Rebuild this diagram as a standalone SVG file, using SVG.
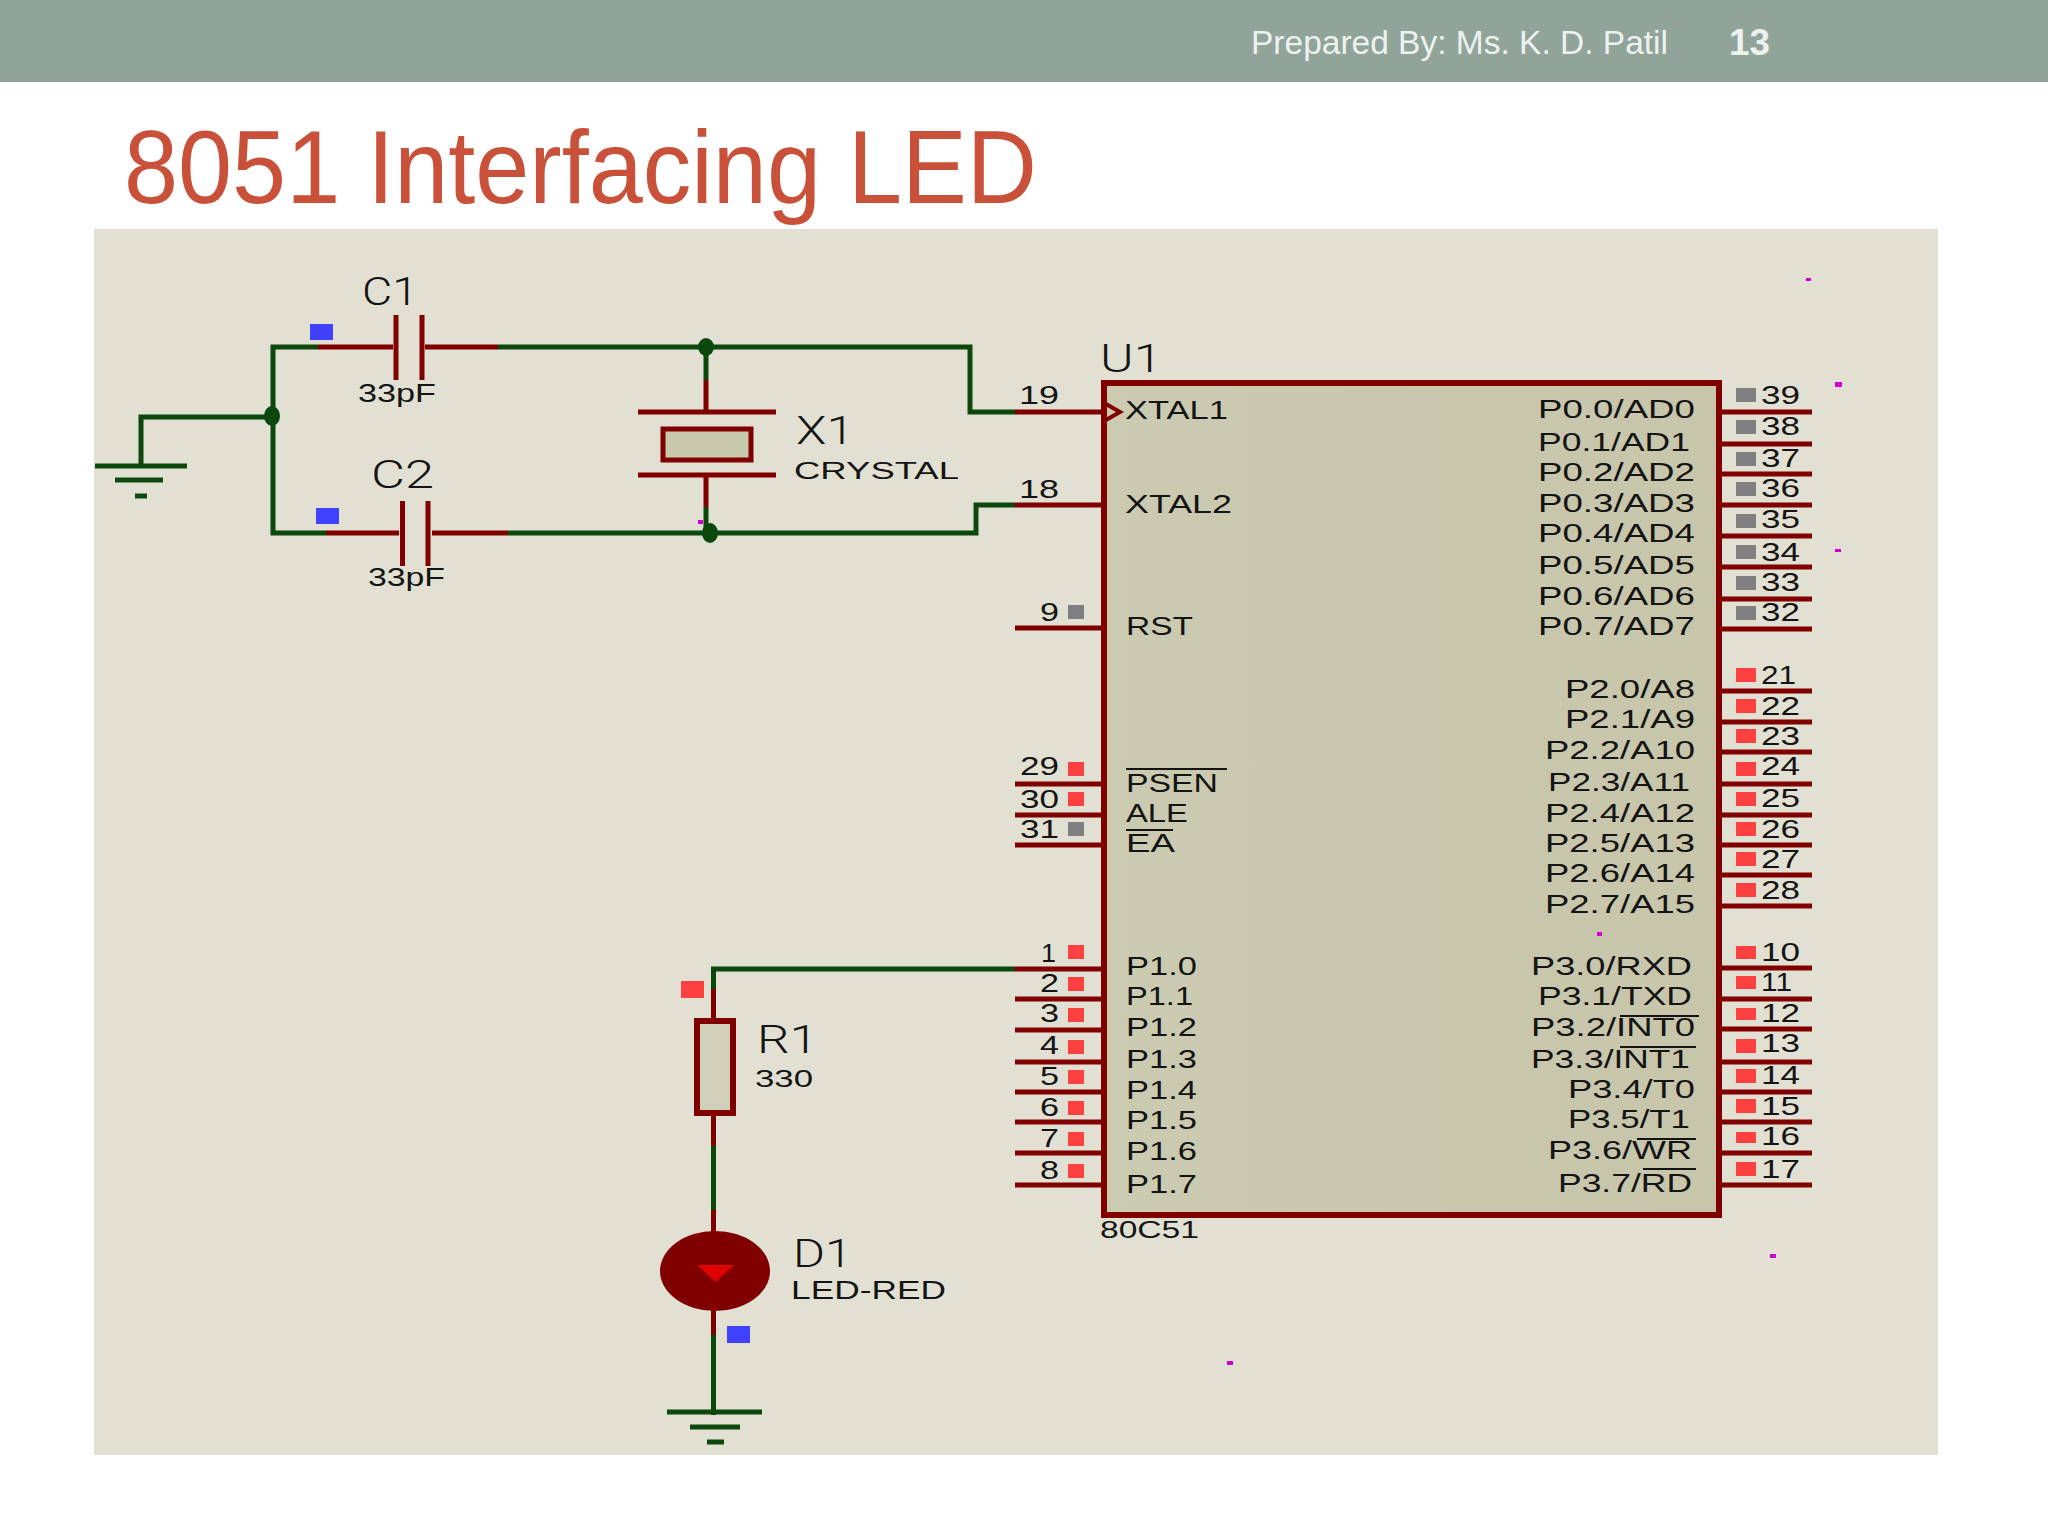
<svg xmlns="http://www.w3.org/2000/svg" width="2048" height="1536" viewBox="0 0 2048 1536">
<style>
text{font-family:"Liberation Sans",Arial,sans-serif;fill:#141414}
.w{fill:none;stroke:#0c480c;stroke-width:5}
.r{fill:none;stroke:#800000;stroke-width:5}
.j{fill:#0c480c}
.ol{stroke:#141414;stroke-width:2}
.l{font-size:25px}
.d{font-size:26px}
.n{font-size:24px}
.big{font-size:38px;font-family:Roboto,"Liberation Sans",sans-serif;font-weight:300}
.sr{fill:#ff4040}.sg{fill:#808080}.sb{fill:#4040ff}.m{fill:#d000d0}
</style>
<defs>
<linearGradient id="chip" x1="0" x2="1" y1="0" y2="0"><stop offset="0" stop-color="#cbcbb2"/><stop offset="1" stop-color="#c7c5aa"/></linearGradient>
</defs>
<rect width="2048" height="1536" fill="#fff"/>
<rect id="header" width="2048" height="82" fill="#90a49a"/>
<text x="1251" y="54" font-size="33" textLength="417" lengthAdjust="spacingAndGlyphs" style="fill:#edf2ef">Prepared By: Ms. K. D. Patil</text>
<text x="1729" y="55" font-size="37" font-weight="bold" textLength="41" lengthAdjust="spacingAndGlyphs" style="fill:#edf2ef">13</text>
<text x="124" y="203" font-size="103" textLength="913" lengthAdjust="spacingAndGlyphs" style="fill:#c9513a">8051 Interfacing LED</text>
<rect id="schematic" x="94" y="229" width="1844" height="1226" fill="#e1e0d2"/>

<g id="connectors">
<path class="w" d="M318 347H273V533H326"/>
<path class="w" d="M498 347H970V412H1015"/>
<path class="w" d="M508 533H976V505H1015"/>
<path class="w" d="M272 417H141V466"/>
<path class="w" d="M706 347V380"/>
<path class="w" d="M706 507V533"/>
<path class="w" d="M1015 969H713.500V989"/>
<path class="w" d="M713.500 1146V1210"/>
<path class="w" d="M713.500 1335V1415"/>
<ellipse class="j" cx="272" cy="416" rx="8" ry="10"/>
<ellipse class="j" cx="706" cy="347" rx="8" ry="9"/>
<ellipse class="j" cx="710" cy="533" rx="8" ry="10"/>
</g>

<g id="GND1">
<path class="w" d="M95 466H187"/><path class="w" d="M115 480H163"/><path class="w" d="M135 496H147"/>
</g>
<g id="C1">
<path class="r" d="M318 347H393M425 347H498"/>
<path class="r" d="M396 315V380M422 315V380"/>
<rect class="sb" x="310" y="324" width="23" height="16"/>
<text class="big" x="362" y="305" textLength="56" lengthAdjust="spacingAndGlyphs">C1</text>
<text class="l" x="358" y="402" textLength="78" lengthAdjust="spacingAndGlyphs">33pF</text>
</g>
<g id="C2">
<path class="r" d="M326 533H399M432 533H508"/>
<path class="r" d="M402.500 501V566M428 501V566"/>
<rect class="sb" x="316" y="508" width="23" height="16"/>
<text class="big" x="371" y="488" textLength="63" lengthAdjust="spacingAndGlyphs">C2</text>
<text class="l" x="368" y="586" textLength="77" lengthAdjust="spacingAndGlyphs">33pF</text>
</g>
<g id="X1">
<path class="r" d="M706 380V412M638 412H776M638 475H776M706 475V507"/>
<rect x="663" y="429" width="88" height="31" fill="#c9c9ae" stroke="#800000" stroke-width="5"/>
<text class="big" x="796" y="444" textLength="58" lengthAdjust="spacingAndGlyphs">X1</text>
<text class="n" x="794" y="479" textLength="165" lengthAdjust="spacingAndGlyphs">CRYSTAL</text>
</g>
<g id="R1">
<path class="r" d="M713.500 989V1021M713.500 1116V1146"/>
<rect x="697" y="1021" width="36" height="92" fill="#d0d0ba" stroke="#800000" stroke-width="6"/>
<rect class="sr" x="681" y="981" width="23" height="17"/>
<text class="big" x="757" y="1053" textLength="61" lengthAdjust="spacingAndGlyphs">R1</text>
<text class="n" x="755" y="1087" textLength="58" lengthAdjust="spacingAndGlyphs">330</text>
</g>
<g id="D1">
<path class="r" d="M713.500 1210V1240M713.500 1300V1335"/>
<ellipse cx="715" cy="1271" rx="55" ry="40" fill="#800000"/>
<path d="M697 1265H734L715.500 1282Z" fill="#e00000"/>
<rect class="sb" x="727" y="1326" width="23" height="17"/>
<text class="big" x="793" y="1267" textLength="59" lengthAdjust="spacingAndGlyphs">D1</text>
<text class="l" x="791" y="1299" textLength="155" lengthAdjust="spacingAndGlyphs">LED-RED</text>
</g>
<g id="GND2">
<path class="w" d="M667 1412H762"/><path class="w" d="M690 1427H740"/><path class="w" d="M707 1442H724"/>
</g>

<g id="U1">
<rect x="1104" y="383" width="615" height="832" fill="url(#chip)" stroke="#800000" stroke-width="6"/>
<text class="big" x="1100" y="372" textLength="62" lengthAdjust="spacingAndGlyphs">U1</text>
<text class="n" x="1100" y="1238" textLength="99" lengthAdjust="spacingAndGlyphs">80C51</text>
<path class="r" d="M1015 412H1101M1015 505H1101M1015 628H1101M1015 784H1101M1015 815H1101M1015 845H1101M1015 969H1101M1015 999H1101M1015 1030H1101M1015 1062H1101M1015 1092H1101M1015 1122H1101M1015 1153H1101M1015 1185H1101"/>
<path class="r" d="M1722 412H1812M1722 444H1812M1722 474H1812M1722 505H1812M1722 536H1812M1722 567H1812M1722 599H1812M1722 629H1812M1722 691H1812M1722 722H1812M1722 752H1812M1722 784H1812M1722 815H1812M1722 845H1812M1722 875H1812M1722 906H1812M1722 968H1812M1722 999H1812M1722 1029H1812M1722 1062H1812M1722 1092H1812M1722 1122H1812M1722 1153H1812M1722 1185H1812"/>
<path d="M1106 404L1120 412L1106 420" fill="none" stroke="#800000" stroke-width="4"/>
<g class="d">
<text x="1019" y="404" textLength="40" lengthAdjust="spacingAndGlyphs">19</text>
<text x="1019" y="498" textLength="40" lengthAdjust="spacingAndGlyphs">18</text>
<text x="1040" y="621" textLength="19" lengthAdjust="spacingAndGlyphs">9</text>
<text x="1020" y="775" textLength="39" lengthAdjust="spacingAndGlyphs">29</text>
<text x="1020" y="808" textLength="39" lengthAdjust="spacingAndGlyphs">30</text>
<text x="1020" y="838" textLength="39" lengthAdjust="spacingAndGlyphs">31</text>
<text x="1041" y="962" textLength="15" lengthAdjust="spacingAndGlyphs">1</text>
<text x="1040" y="992" textLength="19" lengthAdjust="spacingAndGlyphs">2</text>
<text x="1040" y="1022" textLength="19" lengthAdjust="spacingAndGlyphs">3</text>
<text x="1040" y="1054" textLength="19" lengthAdjust="spacingAndGlyphs">4</text>
<text x="1040" y="1085" textLength="19" lengthAdjust="spacingAndGlyphs">5</text>
<text x="1040" y="1116" textLength="19" lengthAdjust="spacingAndGlyphs">6</text>
<text x="1040" y="1147" textLength="19" lengthAdjust="spacingAndGlyphs">7</text>
<text x="1040" y="1179" textLength="19" lengthAdjust="spacingAndGlyphs">8</text>

<text x="1761" y="404" textLength="39" lengthAdjust="spacingAndGlyphs">39</text>
<text x="1761" y="435" textLength="39" lengthAdjust="spacingAndGlyphs">38</text>
<text x="1761" y="467" textLength="39" lengthAdjust="spacingAndGlyphs">37</text>
<text x="1761" y="497" textLength="39" lengthAdjust="spacingAndGlyphs">36</text>
<text x="1761" y="528" textLength="39" lengthAdjust="spacingAndGlyphs">35</text>
<text x="1761" y="561" textLength="39" lengthAdjust="spacingAndGlyphs">34</text>
<text x="1761" y="591" textLength="39" lengthAdjust="spacingAndGlyphs">33</text>
<text x="1761" y="621" textLength="39" lengthAdjust="spacingAndGlyphs">32</text>
<text x="1761" y="684" textLength="35" lengthAdjust="spacingAndGlyphs">21</text>
<text x="1761" y="715" textLength="39" lengthAdjust="spacingAndGlyphs">22</text>
<text x="1761" y="745" textLength="39" lengthAdjust="spacingAndGlyphs">23</text>
<text x="1761" y="775" textLength="39" lengthAdjust="spacingAndGlyphs">24</text>
<text x="1761" y="807" textLength="39" lengthAdjust="spacingAndGlyphs">25</text>
<text x="1761" y="838" textLength="39" lengthAdjust="spacingAndGlyphs">26</text>
<text x="1761" y="868" textLength="39" lengthAdjust="spacingAndGlyphs">27</text>
<text x="1761" y="899" textLength="39" lengthAdjust="spacingAndGlyphs">28</text>
<text x="1761" y="961" textLength="39" lengthAdjust="spacingAndGlyphs">10</text>
<text x="1761" y="991" textLength="31" lengthAdjust="spacingAndGlyphs">11</text>
<text x="1761" y="1022" textLength="39" lengthAdjust="spacingAndGlyphs">12</text>
<text x="1761" y="1052" textLength="39" lengthAdjust="spacingAndGlyphs">13</text>
<text x="1761" y="1084" textLength="39" lengthAdjust="spacingAndGlyphs">14</text>
<text x="1761" y="1115" textLength="39" lengthAdjust="spacingAndGlyphs">15</text>
<text x="1761" y="1145" textLength="39" lengthAdjust="spacingAndGlyphs">16</text>
<text x="1761" y="1178" textLength="39" lengthAdjust="spacingAndGlyphs">17</text>
</g>
<g class="l">
<text x="1125" y="419" textLength="103" lengthAdjust="spacingAndGlyphs">XTAL1</text>
<text x="1125" y="513" textLength="107" lengthAdjust="spacingAndGlyphs">XTAL2</text>
<text x="1126" y="635" textLength="67" lengthAdjust="spacingAndGlyphs">RST</text>
<text x="1126" y="792" textLength="92" lengthAdjust="spacingAndGlyphs">PSEN</text>
<text x="1126" y="822" textLength="62" lengthAdjust="spacingAndGlyphs">ALE</text>
<text x="1126" y="852" textLength="49" lengthAdjust="spacingAndGlyphs">EA</text>
<text x="1126" y="975" textLength="71" lengthAdjust="spacingAndGlyphs">P1.0</text>
<text x="1126" y="1005" textLength="67" lengthAdjust="spacingAndGlyphs">P1.1</text>
<text x="1126" y="1036" textLength="71" lengthAdjust="spacingAndGlyphs">P1.2</text>
<text x="1126" y="1068" textLength="71" lengthAdjust="spacingAndGlyphs">P1.3</text>
<text x="1126" y="1099" textLength="71" lengthAdjust="spacingAndGlyphs">P1.4</text>
<text x="1126" y="1129" textLength="71" lengthAdjust="spacingAndGlyphs">P1.5</text>
<text x="1126" y="1160" textLength="71" lengthAdjust="spacingAndGlyphs">P1.6</text>
<text x="1126" y="1193" textLength="71" lengthAdjust="spacingAndGlyphs">P1.7</text>

<text x="1538" y="418" textLength="157" lengthAdjust="spacingAndGlyphs">P0.0/AD0</text>
<text x="1538" y="451" textLength="152" lengthAdjust="spacingAndGlyphs">P0.1/AD1</text>
<text x="1538" y="481" textLength="157" lengthAdjust="spacingAndGlyphs">P0.2/AD2</text>
<text x="1538" y="512" textLength="157" lengthAdjust="spacingAndGlyphs">P0.3/AD3</text>
<text x="1538" y="542" textLength="157" lengthAdjust="spacingAndGlyphs">P0.4/AD4</text>
<text x="1538" y="574" textLength="157" lengthAdjust="spacingAndGlyphs">P0.5/AD5</text>
<text x="1538" y="605" textLength="157" lengthAdjust="spacingAndGlyphs">P0.6/AD6</text>
<text x="1538" y="635" textLength="157" lengthAdjust="spacingAndGlyphs">P0.7/AD7</text>
<text x="1565" y="698" textLength="130" lengthAdjust="spacingAndGlyphs">P2.0/A8</text>
<text x="1565" y="728" textLength="130" lengthAdjust="spacingAndGlyphs">P2.1/A9</text>
<text x="1545" y="759" textLength="150" lengthAdjust="spacingAndGlyphs">P2.2/A10</text>
<text x="1548" y="791" textLength="142" lengthAdjust="spacingAndGlyphs">P2.3/A11</text>
<text x="1545" y="822" textLength="150" lengthAdjust="spacingAndGlyphs">P2.4/A12</text>
<text x="1545" y="852" textLength="150" lengthAdjust="spacingAndGlyphs">P2.5/A13</text>
<text x="1545" y="882" textLength="150" lengthAdjust="spacingAndGlyphs">P2.6/A14</text>
<text x="1545" y="913" textLength="150" lengthAdjust="spacingAndGlyphs">P2.7/A15</text>
<text x="1531" y="975" textLength="161" lengthAdjust="spacingAndGlyphs">P3.0/RXD</text>
<text x="1538" y="1005" textLength="154" lengthAdjust="spacingAndGlyphs">P3.1/TXD</text>
<text x="1531" y="1036" textLength="164" lengthAdjust="spacingAndGlyphs">P3.2/INT0</text>
<text x="1531" y="1068" textLength="159" lengthAdjust="spacingAndGlyphs">P3.3/INT1</text>
<text x="1568" y="1098" textLength="127" lengthAdjust="spacingAndGlyphs">P3.4/T0</text>
<text x="1568" y="1128" textLength="122" lengthAdjust="spacingAndGlyphs">P3.5/T1</text>
<text x="1548" y="1159" textLength="144" lengthAdjust="spacingAndGlyphs">P3.6/WR</text>
<text x="1558" y="1192" textLength="134" lengthAdjust="spacingAndGlyphs">P3.7/RD</text>
</g>
<path class="ol" d="M1126 769H1227M1126 830H1173M1620 1016H1699M1620 1047H1696M1637 1139H1696M1643 1169H1696"/>
<g class="sg">
<rect x="1068" y="605" width="16" height="14"/><rect x="1068" y="822" width="16" height="14"/>
<rect x="1736" y="388" width="20" height="14"/><rect x="1736" y="420" width="20" height="14"/><rect x="1736" y="452" width="20" height="14"/><rect x="1736" y="482" width="20" height="14"/><rect x="1736" y="514" width="20" height="14"/><rect x="1736" y="545" width="20" height="14"/><rect x="1736" y="576" width="20" height="14"/><rect x="1736" y="606" width="20" height="14"/>
</g>
<g class="sr">
<rect x="1068" y="762" width="16" height="14"/><rect x="1068" y="792" width="16" height="14"/>
<rect x="1068" y="945" width="16" height="14"/><rect x="1068" y="977" width="16" height="14"/><rect x="1068" y="1008" width="16" height="14"/><rect x="1068" y="1040" width="16" height="14"/><rect x="1068" y="1070" width="16" height="14"/><rect x="1068" y="1101" width="16" height="14"/><rect x="1068" y="1132" width="16" height="14"/><rect x="1068" y="1164" width="16" height="14"/>
<rect x="1736" y="668" width="20" height="14"/><rect x="1736" y="699" width="20" height="14"/><rect x="1736" y="729" width="20" height="14"/><rect x="1736" y="762" width="20" height="14"/><rect x="1736" y="792" width="20" height="14"/><rect x="1736" y="822" width="20" height="14"/><rect x="1736" y="852" width="20" height="14"/><rect x="1736" y="883" width="20" height="14"/>
<rect x="1736" y="946" width="20" height="13"/><rect x="1736" y="976" width="20" height="13"/><rect x="1736" y="1008" width="20" height="12"/><rect x="1736" y="1039" width="20" height="14"/><rect x="1736" y="1069" width="20" height="14"/><rect x="1736" y="1099" width="20" height="14"/><rect x="1736" y="1132" width="20" height="11"/><rect x="1736" y="1162" width="20" height="14"/>
</g>
</g>
<g class="m">
<rect x="1806" y="278" width="5" height="3"/><rect x="1835" y="382" width="7" height="5"/><rect x="1835" y="549" width="6" height="3"/><rect x="1770" y="1254" width="6" height="4"/><rect x="1227" y="1361" width="6" height="4"/><rect x="698" y="520" width="5" height="4"/><rect x="1597" y="932" width="5" height="4"/>
</g>
</svg>
